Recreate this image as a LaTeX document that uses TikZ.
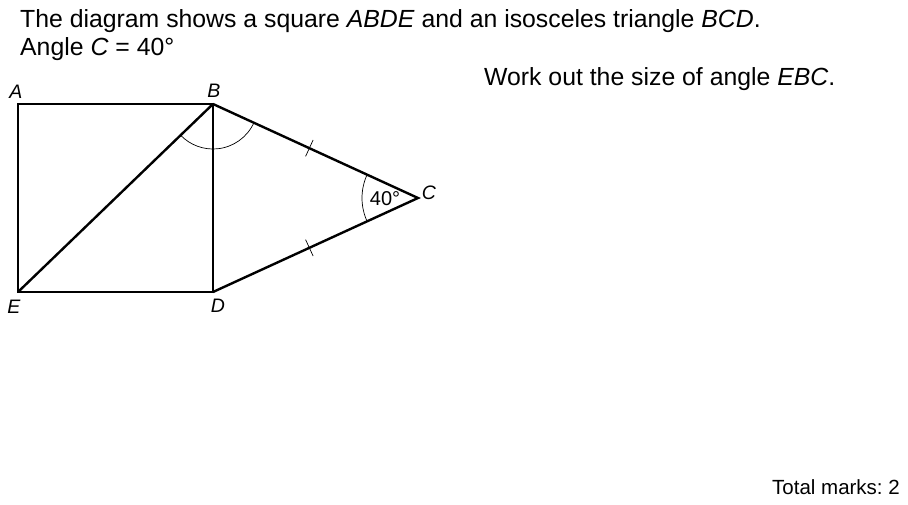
\documentclass[tikz,border=0pt]{standalone}
\usepackage{fontspec}
\setmainfont{Liberation Sans}
\usetikzlibrary{calc}
\begin{document}
\frenchspacing
\begin{tikzpicture}[x=1pt,y=-1pt,
  edge/.style={line width=2.4pt,line join=miter},
  thin mark/.style={line width=0.7pt},
  lbl/.style={font=\fontsize{19.5}{21}\selectfont\itshape,inner sep=0pt},
  txt/.style={anchor=base west,inner sep=0pt,font=\fontsize{24.8}{27}\selectfont}]
\useasboundingbox (0,0) rectangle (908,504);
\coordinate (A) at (18,104);
\coordinate (B) at (213,104);
\coordinate (D) at (213,292);
\coordinate (E) at (18,292);
\coordinate (C) at (418,198);
\draw[edge] (A) -- (B) -- (D) -- (E) -- cycle;
\draw[edge] (E) -- (B);
\draw[edge] (B) -- (C) -- (D);
% angle EBC arc
\draw[thin mark] ($(B)+(24.6:45)$) arc[start angle=24.6,end angle=136,radius=45];
% angle C arc
\draw[thin mark] ($(C)+(155.4:56)$) arc[start angle=155.4,end angle=204.6,radius=56];
% tick marks
\draw[thin mark] ($(B)!0.47!(C)!9pt!90:(C)$) -- ($(B)!0.47!(C)!9pt!-90:(C)$);
\draw[thin mark] ($(D)!0.47!(C)!9pt!90:(C)$) -- ($(D)!0.47!(C)!9pt!-90:(C)$);
% labels
\node[lbl] (lA) at (16,91.5) {A};
\node[lbl] (lB) at (214,91) {B};
\node[lbl] (lC) at (429,193) {C};
\node[lbl] (lD) at (218,306) {D};
\node[lbl] (lE) at (14,307) {E};
\node[inner sep=0pt,font=\fontsize{20}{22}\selectfont] (a40) at (385,199) {40°};
% texts
\node[txt] (t1) at (20,27) {The diagram shows a square \textit{ABDE} and an isosceles triangle \textit{BCD}.};
\node[txt] (t2) at (20,55) {Angle \textit{C} = 40°};
\node[txt] (t3) at (484,85) {Work out the size of angle \textit{EBC}.};
\node[txt,font=\fontsize{20.5}{23}\selectfont] (t4) at (772,494) {Total marks: 2};
\end{tikzpicture}
\end{document}
